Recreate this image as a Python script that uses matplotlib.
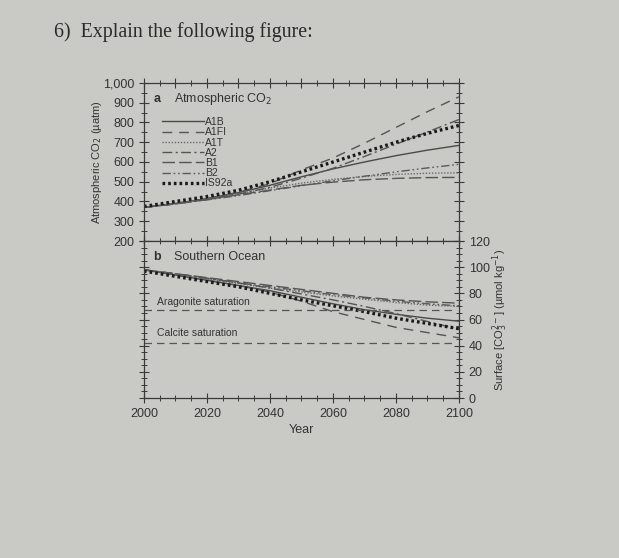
import matplotlib
matplotlib.use("Agg")
import matplotlib.pyplot as plt
from matplotlib.ticker import MultipleLocator, FuncFormatter

years = [2000, 2010, 2020, 2030, 2040, 2050, 2060, 2070, 2080, 2090, 2100]
scenarios = ["A1B", "A1FI", "A1T", "A2", "B1", "B2", "IS92a"]

co2_A1B = [370, 390, 415, 445, 482, 525, 565, 600, 632, 660, 684]
co2_A1FI = [370, 390, 415, 447, 490, 560, 620, 695, 775, 855, 930]
co2_A1T = [370, 390, 412, 440, 468, 493, 512, 527, 537, 543, 545]
co2_A2 = [370, 388, 410, 437, 472, 518, 568, 628, 690, 752, 815]
co2_B1 = [370, 388, 410, 434, 458, 482, 498, 510, 517, 521, 522]
co2_B2 = [370, 388, 408, 430, 455, 480, 505, 528, 550, 570, 588]
co2_IS92a = [375, 400, 425, 457, 500, 550, 600, 650, 700, 745, 785]

co3_A1B = [98, 94, 90, 86, 82, 77, 72, 67.5, 64, 61, 58.7]
co3_A1FI = [98, 94, 90, 86, 81, 74, 66, 60, 54, 50, 46]
co3_A1T = [98, 94.5, 91, 87.5, 84, 81, 78, 75.5, 73, 71, 70]
co3_A2 = [98, 95, 91.5, 88, 84, 79.5, 75, 70, 64.5, 58.5, 52.5]
co3_B1 = [98, 95, 92, 89, 86, 83, 80, 77, 75, 73.5, 72.5]
co3_B2 = [98, 95, 91.5, 88, 85, 82, 79, 76.5, 74, 72, 70.5]
co3_IS92a = [97, 93, 89, 85, 80, 75, 70.5, 66, 61, 57, 53]

aragonite_sat = 67
calcite_sat = 42

co2_series = [co2_A1B, co2_A1FI, co2_A1T, co2_A2, co2_B1, co2_B2, co2_IS92a]
co3_series = [co3_A1B, co3_A1FI, co3_A1T, co3_A2, co3_B1, co3_B2, co3_IS92a]

styles = {
    "A1B": dict(color="#4a4a4a", ls="-", lw=1.0),
    "A1FI": dict(color="#555555", ls=(0, (7, 5)), lw=1.0),
    "A1T": dict(color="#6a6a6a", ls=(0, (1, 1.2)), lw=1.0),
    "A2": dict(color="#555555", ls=(0, (7, 2.5, 1.5, 2.5)), lw=1.0),
    "B1": dict(color="#555555", ls=(0, (9, 3)), lw=1.0),
    "B2": dict(color="#5a5a5a", ls=(0, (6, 2, 1.2, 2, 1.2, 2)), lw=1.0),
    "IS92a": dict(color="#1a1a1a", ls=(0, (0.8, 0.9)), lw=2.4),
}

bg = "#c9c9c6"
txt = "#333333"
plt.rcParams["font.family"] = ["Liberation Sans", "DejaVu Sans"]

fig = plt.figure(figsize=(6.19, 5.58), dpi=100, facecolor=bg)
axa = fig.add_axes([0.2326, 0.5681, 0.5089, 0.2832], facecolor=bg)
axb = fig.add_axes([0.2326, 0.2867, 0.5089, 0.2814], facecolor=bg)

fig.text(0.088, 0.942, "6)  Explain the following figure:", family=["Liberation Serif", "DejaVu Serif"],
         fontsize=14.3, color="#2a2a2a", va="center")

for name, vals in zip(scenarios, co2_series):
    axa.plot(years, vals, label=name, **styles[name])
for name, vals in zip(scenarios, co3_series):
    axb.plot(years, vals, **styles[name])

axb.axhline(aragonite_sat, color="#555555", ls=(0, (6, 4)), lw=0.9, xmin=0, xmax=0.98)
axb.axhline(calcite_sat, color="#555555", ls=(0, (6, 4)), lw=0.9, xmin=0, xmax=0.98)
axb.text(2004, aragonite_sat + 2.5, "Aragonite saturation", fontsize=7.5, color=txt, va="bottom")
axb.text(2004, calcite_sat + 3.5, "Calcite saturation", fontsize=7.5, color=txt, va="bottom")

for ax in (axa, axb):
    ax.set_xlim(2000, 2100)
    for s in ax.spines.values():
        s.set_color("#3a3a3a")
        s.set_linewidth(0.9)
    ax.xaxis.set_major_locator(MultipleLocator(10))
    ax.xaxis.set_minor_locator(MultipleLocator(5))
    ax.tick_params(axis="both", which="major", direction="inout", length=7, width=0.8,
                   colors="#3a3a3a", labelcolor=txt, labelsize=9, top=True, bottom=True,
                   left=True, right=True)
    ax.tick_params(axis="both", which="minor", direction="inout", length=4, width=0.7,
                   colors="#3a3a3a", top=True, bottom=True, left=True, right=True)

axa.set_ylim(200, 1000)
axa.yaxis.set_major_locator(MultipleLocator(100))
axa.yaxis.set_minor_locator(MultipleLocator(50))
axa.yaxis.set_major_formatter(FuncFormatter(lambda v, p: f"{int(v):,}"))
axa.tick_params(axis="x", labelbottom=False)
axa.set_ylabel("Atmospheric CO$_2$ (µatm)", fontsize=8, color=txt)
axa.yaxis.set_label_coords(-0.128, 0.5)
axa.text(0.03, 0.9, "a", transform=axa.transAxes, fontsize=9, fontweight="bold", color=txt, va="center")
axa.text(0.095, 0.9, "Atmospheric CO$_2$", transform=axa.transAxes, fontsize=9, color=txt, va="center")
leg = axa.legend(loc="upper left", bbox_to_anchor=(0.035, 0.83), frameon=False, fontsize=7.5,
                 handlelength=4.0, handletextpad=0.1, labelspacing=0.02, borderpad=0.2)
for t in leg.get_texts():
    t.set_color(txt)

axb.set_ylim(0, 120)
axb.yaxis.set_major_locator(MultipleLocator(20))
axb.yaxis.set_minor_locator(MultipleLocator(5))
axb.xaxis.set_major_locator(MultipleLocator(20))
axb.xaxis.set_minor_locator(MultipleLocator(5))
axb.tick_params(axis="y", labelleft=False, labelright=True)
axb.tick_params(axis="x", labeltop=False, labelbottom=True)
axb.yaxis.set_label_position("right")
axb.set_ylabel("Surface [CO$_3^{2-}$] (µmol kg$^{-1}$)", fontsize=8, color=txt)
axb.yaxis.set_label_coords(1.1, 0.5)
axb.set_xlabel("Year", fontsize=9, color=txt, labelpad=3)
axb.text(0.03, 0.9, "b", transform=axb.transAxes, fontsize=9, fontweight="bold", color=txt, va="center")
axb.text(0.095, 0.9, "Southern Ocean", transform=axb.transAxes, fontsize=9, color=txt, va="center")

fig.savefig("out.png", dpi=100, facecolor=bg)
